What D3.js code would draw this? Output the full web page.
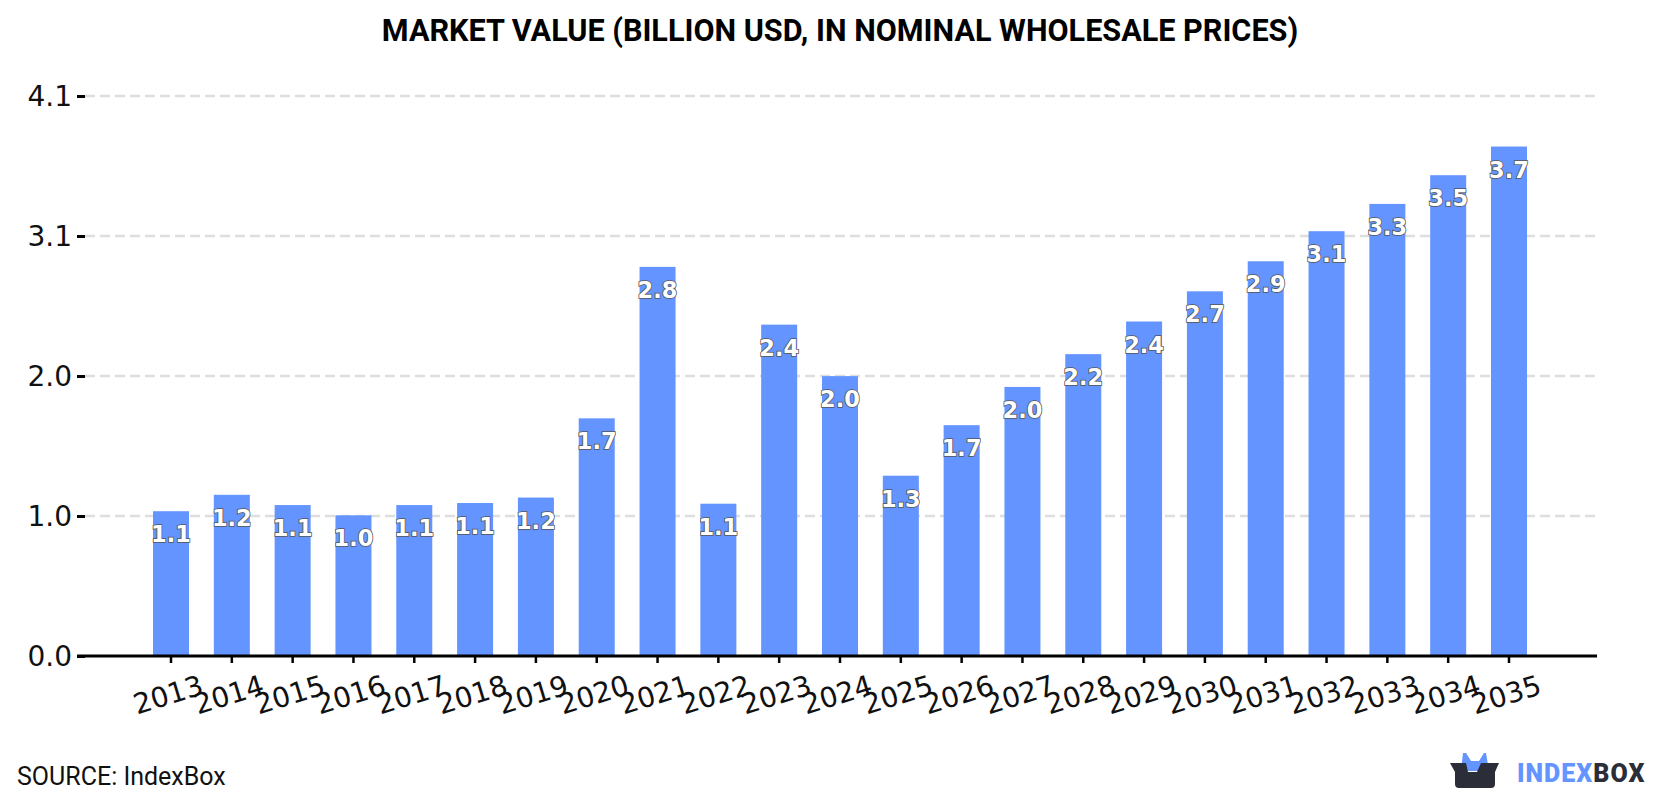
<!DOCTYPE html>
<html>
<head>
<meta charset="utf-8">
<script src="https://cdn.jsdelivr.net/npm/d3@7"></script>
<style>
html, body { margin: 0; padding: 0; background: #fff; }
svg { display: block; }
</style>
</head>
<body>
<svg id="chart" width="1680" height="800"></svg>
<script>
const years = ["2013","2014","2015","2016","2017","2018","2019","2020","2021","2022","2023","2024","2025","2026","2027","2028","2029","2030","2031","2032","2033","2034","2035"];
const marketValue = [1.06,1.18,1.105,1.03,1.105,1.12,1.16,1.74,2.849,1.115,2.426,2.049,1.32,1.69,1.97,2.21,2.449,2.67,2.89,3.11,3.31,3.52,3.73];
const yTickValues = [0, 1.025, 2.05, 3.075, 4.1];
const yTickLabels = ["0.0", "1.0", "2.0", "3.1", "4.1"];
const titleText = "MARKET VALUE (BILLION USD, IN NOMINAL WHOLESALE PRICES)";
const sourceText = "SOURCE: IndexBox";

const svg = d3.select("#chart");
const plot = { left: 85, right: 1597, top: 96, bottom: 656, axisStart: 77 };

const x = d3.scaleBand().domain(years).range([140.6, 1539.4]).paddingInner(0.408).paddingOuter(0.204);
const y = d3.scaleLinear().domain([0, 4.1]).range([plot.bottom, plot.top]);

// Horizontal dashed grid, skipping the baseline
svg.append("g").selectAll("line").data(yTickValues.slice(1)).join("line")
  .attr("x1", plot.left).attr("x2", plot.right)
  .attr("y1", d => y(d)).attr("y2", d => y(d))
  .attr("stroke", "#dedede").attr("stroke-width", 2.5).attr("stroke-dasharray", "10,5");

// Bars
svg.append("g").selectAll("rect").data(marketValue).join("rect")
  .attr("x", (d, i) => x(years[i]))
  .attr("width", x.bandwidth())
  .attr("y", d => y(d))
  .attr("height", d => y(0) - y(d))
  .attr("fill", "#6394ff");

// Value labels inside the bars
svg.append("g").selectAll("text").data(marketValue).join("text")
  .attr("x", (d, i) => x(years[i]) + x.bandwidth() / 2)
  .attr("y", d => y(d) + 23)
  .attr("dy", "0.36em")
  .attr("text-anchor", "middle")
  .attr("font-family", "'DejaVu Sans'")
  .attr("font-weight", "bold")
  .attr("font-size", 22.5)
  .attr("fill", "#fff")
  .attr("stroke", "#555")
  .attr("stroke-width", 1.6)
  .attr("paint-order", "stroke")
  .text(d => d3.format(".1f")(d));

// Y axis
const yAxis = d3.axisLeft(y).tickValues(yTickValues)
  .tickFormat((d, i) => yTickLabels[i]).tickSize(8).tickPadding(5);
const yG = svg.append("g").attr("transform", `translate(${plot.left},0)`).call(yAxis);
yG.select(".domain").remove();
yG.selectAll("line").attr("stroke", "#000").attr("stroke-width", 3);
yG.selectAll("text").attr("font-family", "'DejaVu Sans'").attr("font-size", 28).attr("fill", "#111")
  .attr("transform", "translate(0,1)");

// X axis
const xAxis = d3.axisBottom(x).tickSize(7).tickPadding(6);
const xG = svg.append("g").attr("transform", `translate(0,${plot.bottom})`).call(xAxis);
xG.select(".domain").remove();
xG.selectAll("line").attr("stroke", "#000").attr("stroke-width", 2.5);
xG.selectAll("text")
  .attr("font-family", "'DejaVu Sans'").attr("font-size", 28).attr("fill", "#111")
  .attr("text-anchor", "middle").attr("dy", null).attr("y", null)
  .attr("transform", "translate(0,48) rotate(-17)");

// Baseline
svg.append("line").attr("x1", plot.axisStart).attr("x2", plot.right)
  .attr("y1", plot.bottom).attr("y2", plot.bottom)
  .attr("stroke", "#000").attr("stroke-width", 3);

// Title and source
svg.append("text").attr("x", 840).attr("y", 41).attr("text-anchor", "middle")
  .attr("font-family", "Roboto").attr("font-weight", "bold").attr("font-size", 30.6)
  .attr("fill", "#000").text(titleText);
svg.append("text").attr("x", 17).attr("y", 785)
  .attr("font-family", "Roboto").attr("font-size", 25).attr("fill", "#111").text(sourceText);

// Brand mark: open box with a blue crown, followed by the wordmark
const logo = svg.append("g");
logo.append("path").attr("fill", "#6394ff")
  .attr("d", "M1461 771 L1463 753 L1466 753 L1471 761 L1479 761 L1484 753 L1486 753 L1489 771 Z");
logo.append("path").attr("fill", "#2b2d38")
  .attr("d", "M1450 763 L1466 763 L1468 772 L1477 772 L1481 763 L1499 763 L1495 772 L1495 784 Q1495 788 1491 788 L1459 788 Q1455 788 1455 784 L1455 772 Z");
const word = logo.append("text").attr("x", 1517).attr("y", 782)
  .attr("font-family", "Roboto").attr("font-weight", "900").attr("font-size", 25).attr("letter-spacing", 1);
word.append("tspan").attr("fill", "#6394ff").text("INDEX");
word.append("tspan").attr("fill", "#2b2d38").text("BOX");
</script>
</body>
</html>
